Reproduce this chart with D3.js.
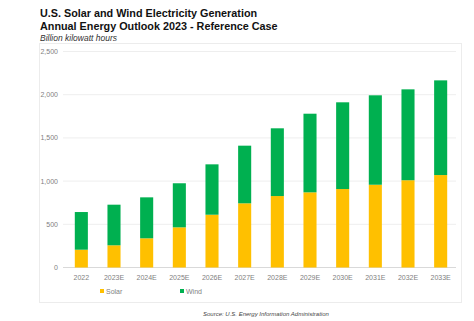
<!DOCTYPE html>
<html>
<head>
<meta charset="utf-8">
<script src="https://cdn.jsdelivr.net/npm/d3@7"></script>
<style>
  body { margin: 0; background: #fff; }
  text { font-family: "Liberation Sans", Arial, sans-serif; }
</style>
</head>
<body>
<svg width="474" height="321"></svg>
<script>
// data
var years = ["2022", "2023E", "2024E", "2025E", "2026E", "2027E", "2028E", "2029E", "2030E", "2031E", "2032E", "2033E"];
var solar = [206, 257, 338, 465, 611, 743, 827, 870, 908, 958, 1010, 1070];
var wind = [436, 470, 474, 510, 583, 667, 784, 910, 1004, 1035, 1052, 1096];
var yTicks = [0, 500, 1000, 1500, 2000, 2500];
var seriesNames = ["Solar", "Wind"];
var colors = ["#FFC000", "#00B050"];

var svg = d3.select("svg");

// frame
svg.append("rect")
  .attr("x", 39.5).attr("y", 43.5)
  .attr("width", 422).attr("height", 259)
  .attr("fill", "none")
  .attr("stroke", "#ececec");

// titles
svg.append("text").attr("x", 40).attr("y", 17)
  .style("font-size", "10.8px").style("font-weight", "bold").attr("fill", "#111")
  .text("U.S. Solar and Wind Electricity Generation");
svg.append("text").attr("x", 40).attr("y", 30)
  .style("font-size", "10.8px").style("font-weight", "bold").attr("fill", "#111")
  .text("Annual Energy Outlook 2023 - Reference Case");
svg.append("text").attr("x", 40).attr("y", 41)
  .style("font-size", "8.5px").style("font-style", "italic").attr("fill", "#333")
  .text("Billion kilowatt hours");

var x = d3.scaleBand().domain(years).range([65, 457]).paddingInner(0.6).paddingOuter(0.3);
var y = d3.scaleLinear().domain([0, 2500]).range([267.5, 51.5]);

// gridlines
svg.append("g").selectAll("line")
  .data(yTicks)
  .enter().append("line")
  .attr("x1", 63).attr("x2", 456)
  .attr("y1", function (d) { return y(d); })
  .attr("y2", function (d) { return y(d); })
  .attr("stroke", function (d) { return d === 0 ? "#d9d9d9" : "#eeeeee"; })
  .attr("stroke-width", 1);

// y labels
svg.append("g").selectAll("text")
  .data(yTicks)
  .enter().append("text")
  .attr("x", 58)
  .attr("y", function (d) { return y(d) + 2.5; })
  .attr("text-anchor", "end")
  .style("font-size", "7px")
  .attr("fill", "#7f7f7f")
  .text(d3.format(","));

// stacked bars
var rows = years.map(function (yr, i) { return {year: yr, Solar: solar[i], Wind: wind[i]}; });
var stack = d3.stack().keys(seriesNames)(rows);

svg.append("g").selectAll("g")
  .data(stack)
  .enter().append("g")
  .attr("fill", function (d, i) { return colors[i]; })
  .selectAll("rect")
  .data(function (d) { return d; })
  .enter().append("rect")
  .attr("x", function (d) { return x(d.data.year); })
  .attr("width", x.bandwidth())
  .attr("y", function (d) { return y(d[1]); })
  .attr("height", function (d) { return y(d[0]) - y(d[1]); });

// x labels
svg.append("g").selectAll("text")
  .data(years)
  .enter().append("text")
  .attr("x", function (d) { return x(d) + x.bandwidth() / 2; })
  .attr("y", 280)
  .attr("text-anchor", "middle")
  .style("font-size", "7px")
  .attr("fill", "#7f7f7f")
  .text(function (d) { return d; });

// legend
var legendX = [100, 180];
seriesNames.forEach(function (name, i) {
  svg.append("rect")
    .attr("x", legendX[i]).attr("y", 289)
    .attr("width", 4).attr("height", 4)
    .attr("fill", colors[i]);
  svg.append("text")
    .attr("x", legendX[i] + 6).attr("y", 293.5)
    .style("font-size", "7px")
    .attr("fill", "#7f7f7f")
    .text(name);
});

// source
svg.append("text").attr("x", 203).attr("y", 316)
  .style("font-size", "6px").style("font-style", "italic").attr("fill", "#444")
  .text("Source: U.S. Energy Information Administration");
</script>
</body>
</html>
